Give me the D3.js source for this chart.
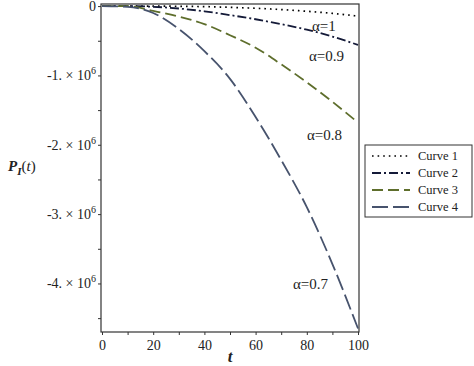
<html>
<head>
<script src="https://d3js.org/d3.v7.min.js"></script>
<style>
    body { margin: 0; background: #fff; }
    svg { font-family: "Liberation Serif", "DejaVu Serif", serif; }
</style>
</head>
<body>
<svg id="chart"></svg>
<script>
const width = 474, height = 366;

// values (y in units of 1e6)
const tValues = [0, 10, 20, 30, 40, 50, 60, 70, 80, 90, 100];
const curve1 = [0, 0, 0, -0.003, -0.008, -0.018, -0.032, -0.05, -0.075, -0.105, -0.145];
const curve2 = [0, 0, -0.01, -0.035, -0.075, -0.13, -0.19, -0.26, -0.34, -0.44, -0.56];
const curve3 = [0, 0, -0.07, -0.15, -0.26, -0.42, -0.6, -0.84, -1.1, -1.38, -1.68];
const curve4 = [0, -0.01, -0.1, -0.33, -0.65, -1.05, -1.6, -2.22, -2.9, -3.72, -4.65];
const seriesNames = ["Curve 1", "Curve 2", "Curve 3", "Curve 4"];
const alphaLabels = ["α=1", "α=0.9", "α=0.8", "α=0.7"];
const xTicks = [0, 20, 40, 60, 80, 100];
const yTicks = [0, -1, -2, -3, -4];

const styles = [
    { color: "#000000", dash: "1.6,4", width: 1.7 },
    { color: "#141a38", dash: "9,3,2,3", width: 1.8 },
    { color: "#5e6e2c", dash: "11,5", width: 1.8 },
    { color: "#47536d", dash: "16,5", width: 1.8 }
];
const allCurves = [curve1, curve2, curve3, curve4];

const svg = d3.select("#chart").attr("width", width).attr("height", height);

const x = d3.scaleLinear().domain([0, 100]).range([102, 358]);
const y = d3.scaleLinear().domain([-4.70, 0.03]).range([332, 4]);

// frame
svg.append("rect")
    .attr("x", 101).attr("y", 4)
    .attr("width", 258).attr("height", 328)
    .attr("fill", "none").attr("stroke", "#333").attr("stroke-width", 1.2);

// x axis
const xAxis = svg.append("g")
    .attr("transform", `translate(0,332)`)
    .call(d3.axisBottom(x).tickValues(d3.range(0, 101, 10)).tickSize(3).tickFormat(d => xTicks.includes(d) ? d : ""));
xAxis.select(".domain").remove();
xAxis.selectAll("line").attr("stroke", "#333");
xAxis.selectAll("text").attr("font-size", 14).attr("fill", "#222")
    .attr("font-family", "Liberation Serif").attr("dy", "0.85em");

svg.append("text")
    .attr("x", 230).attr("y", 362)
    .attr("text-anchor", "middle")
    .attr("font-size", 17).attr("font-style", "italic").attr("font-weight", "bold")
    .attr("fill", "#222")
    .text("t");

// y axis
const yAxis = svg.append("g")
    .attr("transform", `translate(101,0)`)
    .call(d3.axisLeft(y).tickValues(d3.range(0, -4.6, -0.5)).tickSize(3).tickFormat(""));
yAxis.select(".domain").remove();
yAxis.selectAll("line").attr("stroke", "#333");

const yLab = svg.append("g");
yTicks.forEach(v => {
    const t = yLab.append("text")
        .attr("x", 96).attr("y", y(v) + 5)
        .attr("text-anchor", "end")
        .attr("font-size", 14).attr("fill", "#222");
    if (v === 0) {
        t.text("0");
    } else {
        t.append("tspan").text(`${v}. × 10`);
        t.append("tspan").attr("font-size", 10).attr("dy", -6).text("6");
    }
});

const yTitle = svg.append("text")
    .attr("x", 8).attr("y", 171)
    .attr("font-size", 15).attr("fill", "#222");
yTitle.append("tspan").attr("font-weight", "bold").attr("font-style", "italic").text("P");
yTitle.append("tspan").attr("font-weight", "bold").attr("font-style", "italic")
    .attr("font-size", 11).attr("dy", 4).text("I");
yTitle.append("tspan").attr("dy", -4).text("(");
yTitle.append("tspan").attr("font-style", "italic").text("t");
yTitle.append("tspan").text(")");

// curves
const line = d3.line()
    .x((d, i) => x(tValues[i]))
    .y(d => y(d))
    .curve(d3.curveMonotoneX);

allCurves.forEach((c, i) => {
    svg.append("path")
        .datum(c)
        .attr("d", line)
        .attr("fill", "none")
        .attr("stroke", styles[i].color)
        .attr("stroke-width", styles[i].width)
        .attr("stroke-dasharray", styles[i].dash);
});

// alpha labels
const alphaPos = [[312, 31], [309, 61], [307, 140], [293, 289]];
alphaLabels.forEach((a, i) => {
    svg.append("text")
        .attr("x", alphaPos[i][0]).attr("y", alphaPos[i][1])
        .attr("font-size", 15).attr("fill", "#222")
        .text(a);
});

// legend
const legend = svg.append("g");
legend.append("rect")
    .attr("x", 365).attr("y", 145)
    .attr("width", 107).attr("height", 72)
    .attr("fill", "#fff").attr("stroke", "#333").attr("stroke-width", 1);

seriesNames.forEach((name, i) => {
    const ly = 156 + i * 17;
    legend.append("line")
        .attr("x1", 372).attr("x2", 410)
        .attr("y1", ly).attr("y2", ly)
        .attr("stroke", styles[i].color)
        .attr("stroke-width", styles[i].width)
        .attr("stroke-dasharray", styles[i].dash);
    legend.append("text")
        .attr("x", 418).attr("y", ly + 4)
        .attr("font-size", 12.5).attr("fill", "#222")
        .text(name);
});
</script>
</body>
</html>
